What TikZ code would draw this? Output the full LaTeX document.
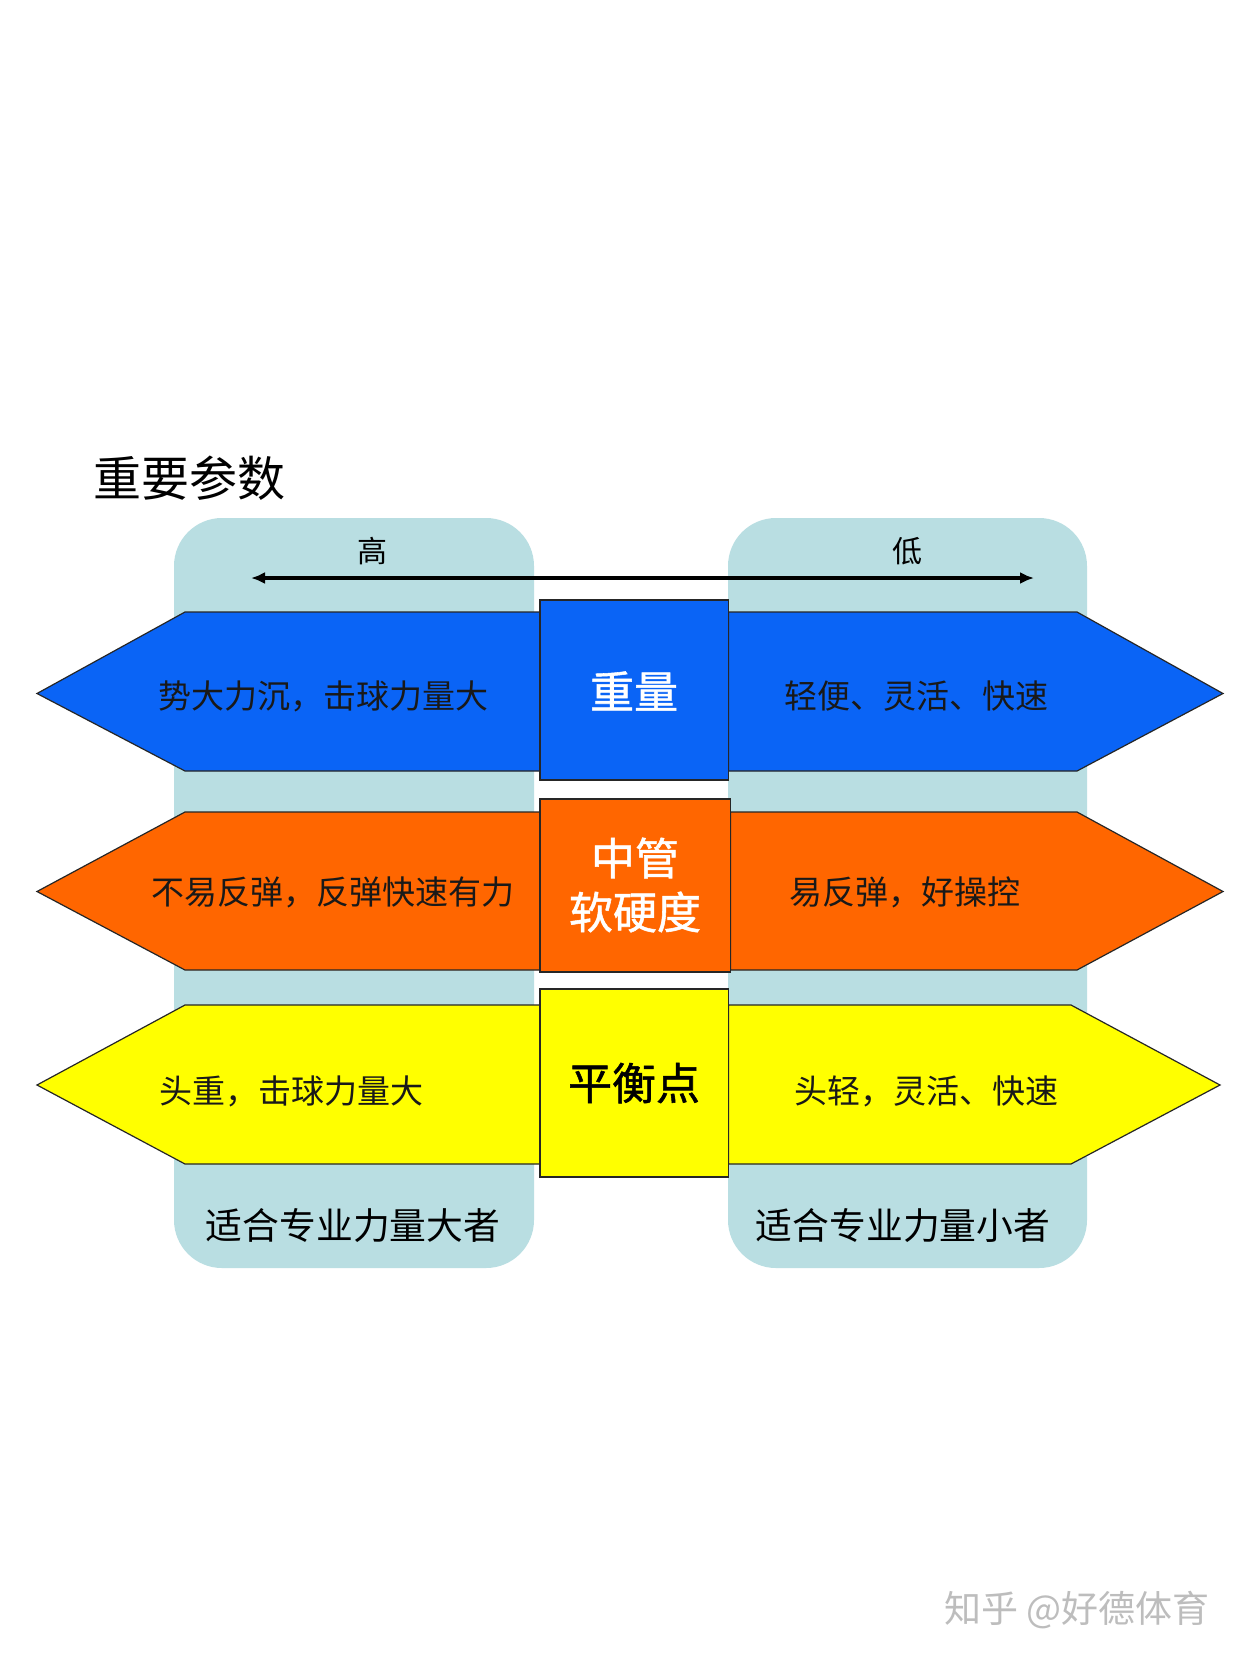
\documentclass[tikz,border=0pt]{standalone}
\usepackage{fontspec}
\newfontfamily\cjk{Noto Sans CJK SC}
\newfontfamily\cjkb[FakeBold=1.2]{Noto Sans CJK SC}
\usetikzlibrary{arrows.meta}
\definecolor{panelblue}{HTML}{B9DEE2}
\definecolor{rowblue}{HTML}{0A64F6}
\definecolor{roworange}{HTML}{FF6600}
\definecolor{rowyellow}{HTML}{FFFF00}
\definecolor{wmgray}{HTML}{BDBDBD}
\tikzset{
  panel/.style={fill=panelblue, rounded corners=24pt},
  rowshape/.style={draw=black!85, line width=0.6pt},
  cbox/.style={draw=black!85, line width=0.6pt},
  desc/.style={font=\cjk\fontsize{16.5pt}{20pt}\selectfont, text=black!90, inner sep=0pt},
  ctitle/.style={font=\cjkb\fontsize{22pt}{27pt}\selectfont, align=center, inner sep=0pt},
  foot/.style={font=\cjk\fontsize{18.4pt}{22pt}\selectfont, inner sep=0pt},
  axislbl/.style={font=\cjk\fontsize{15pt}{18pt}\selectfont, inner sep=0pt},
  tipL/.tip={Latex[length=7pt,width=6pt]}
}
\begin{document}
\begin{tikzpicture}[x=0.5pt,y=-0.5pt]
\fill[white] (0,0) rectangle (1242,1660);
\useasboundingbox (0,0) rectangle (1242,1660);

% title
\node[font=\cjk\fontsize{24pt}{29pt}\selectfont, inner sep=0pt] (title) at (189,478) {重要参数};

% panels
\fill[panel] (174,518) rectangle (534,1268);
\fill[panel] (728,518) rectangle (1087,1268);

% axis
\coordinate (hi) at (251,578);
\coordinate (lo) at (1034,578);
\draw[line width=1.6pt, tipL-tipL] (hi) -- (lo);
\node[axislbl] (gao) at (372,551) {高};
\node[axislbl] (di) at (907,551) {低};

% row 1: blue
\filldraw[rowshape, fill=rowblue] (540,612) -- (185,612) -- (37,693.5) -- (185,771) -- (540,771) -- cycle;
\filldraw[rowshape, fill=rowblue] (728.5,612) -- (1077,612) -- (1223,693.5) -- (1077,771) -- (728.5,771) -- cycle;
\filldraw[cbox, fill=rowblue] (540,600) rectangle (728.5,780);
\node[ctitle, text=white] (w) at (634,691) {重量};
\node[desc] (w1) at (323,696) {势大力沉，击球力量大};
\node[desc] (w2) at (916,696) {轻便、灵活、快速};

% row 2: orange
\filldraw[rowshape, fill=roworange] (540,812) -- (185,812) -- (37,891.5) -- (185,970) -- (540,970) -- cycle;
\filldraw[rowshape, fill=roworange] (730.5,812) -- (1077,812) -- (1223,891.5) -- (1077,970) -- (730.5,970) -- cycle;
\filldraw[cbox, fill=roworange] (540,799) rectangle (730.5,972);
\node[ctitle, text=white] (s) at (635,885) {中管\\软硬度};
\node[desc] (s1) at (333,892) {不易反弹，反弹快速有力};
\node[desc] (s2) at (905,892) {易反弹，好操控};

% row 3: yellow
\filldraw[rowshape, fill=rowyellow] (540,1005) -- (185,1005) -- (37,1085) -- (185,1164) -- (540,1164) -- cycle;
\filldraw[rowshape, fill=rowyellow] (728.5,1005) -- (1071,1005) -- (1220,1085) -- (1071,1164) -- (728.5,1164) -- cycle;
\filldraw[cbox, fill=rowyellow] (540,989) rectangle (728.5,1177);
\node[ctitle, text=black] (b) at (634,1083) {平衡点};
\node[desc] (b1) at (291,1091) {头重，击球力量大};
\node[desc] (b2) at (926,1091) {头轻，灵活、快速};

% footers
\node[foot] (f1) at (353,1226) {适合专业力量大者};
\node[foot] (f2) at (903,1226) {适合专业力量小者};

% watermark
\node[font=\cjk\fontsize{18.5pt}{22pt}\selectfont, text=wmgray, inner sep=0pt] (wm) at (1077,1610) {知乎 @好德体育};
\end{tikzpicture}
\end{document}
